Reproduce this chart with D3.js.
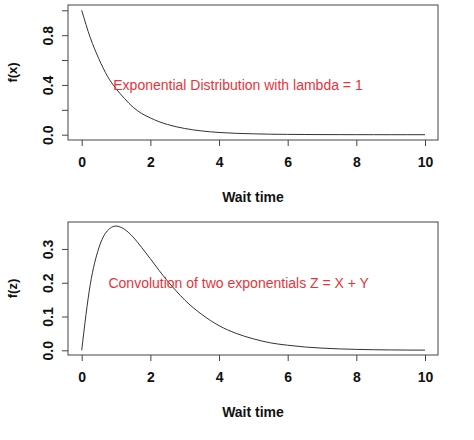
<!DOCTYPE html>
<html><head><meta charset="utf-8">
<script src="https://cdn.jsdelivr.net/npm/d3@7"></script>
<style>body{margin:0;background:#fff}text{font-family:"Liberation Sans",Arial,sans-serif}</style>
</head><body><svg id="chart" width="474" height="440"></svg>
<script>
// wait times sampled along the curves
const waitTimes = [0,0.25,0.5,0.75,1,1.25,1.5,1.75,2,2.25,2.5,2.75,3,3.5,4,4.5,5,5.5,6,6.5,7,7.5,8,8.5,9,9.5,10];
// f(x)
const densityX = [1,0.78,0.61,0.47,0.37,0.29,0.22,0.17,0.135,0.105,0.082,0.064,0.05,0.03,0.018,0.011,0.007,0.004,0.0025,0.0015,0.0009,0.0006,0.0003,0.0002,0.0001,0.0001,0];
// f(z)
const densityZ = [0,0.195,0.303,0.354,0.368,0.358,0.335,0.304,0.271,0.237,0.205,0.176,0.149,0.106,0.073,0.05,0.034,0.022,0.015,0.0098,0.0064,0.0042,0.0027,0.0017,0.0011,0.0007,0.0005];
const xTicks = [0,2,4,6,8,10];

const svg = d3.select("#chart");
const panels = [
  {vals: densityX, top: 5, bottom: 140, y0: 134.7, yTop: 10.3, ymax: 1, ticks: [0,0.4,0.8], minor: [0.2,0.6,1], ylab: "f(x)", tx: 0.92, ty: 0.4, note: "Exponential Distribution with lambda = 1"},
  {vals: densityZ, top: 222, bottom: 355, y0: 350.3, yTop: 226, ymax: 0.368, ticks: [0,0.1,0.2,0.3], minor: [], ylab: "f(z)", tx: 0.78, ty: 0.2, note: "Convolution of two exponentials Z = X + Y"}
];

panels.forEach(p => {
  const x = d3.scaleLinear([0,10],[81.7,425]);
  const y = d3.scaleLinear([0,p.ymax],[p.y0,p.yTop]);
  const g = svg.append("g");

  g.append("rect").attr("x",68).attr("y",p.top).attr("width",370).attr("height",p.bottom-p.top)
    .attr("fill","none").attr("stroke","#444").attr("stroke-width",1);

  g.append("path")
    .attr("fill","none").attr("stroke","#333").attr("stroke-width",1)
    .attr("d", d3.line().curve(d3.curveMonotoneX).x((d,i)=>x(waitTimes[i])).y(d=>y(d))(p.vals));

  // x axis
  const xa = g.append("g").attr("transform",`translate(0,${p.bottom})`)
    .call(d3.axisBottom(x).tickValues(xTicks).tickSize(6).tickPadding(11).tickFormat(d3.format("d")));
  xa.select(".domain").remove();
  xa.selectAll("line").attr("stroke","#444");
  xa.selectAll("text").attr("font-size",14).attr("font-weight","bold").attr("fill","#111");

  // y axis, labels rotated as in R
  const ya = g.append("g").attr("transform","translate(68,0)")
    .call(d3.axisLeft(y).tickValues(p.ticks.concat(p.minor)).tickSize(6)
      .tickFormat(d => p.ticks.includes(d) ? d3.format(".1f")(d) : ""));
  ya.select(".domain").remove();
  ya.selectAll("line").attr("stroke","#444");
  ya.selectAll(".tick text")
    .attr("font-size",14).attr("font-weight","bold").attr("fill","#111")
    .attr("text-anchor","middle").attr("x",0).attr("y",0).attr("dy","0.35em")
    .attr("transform","translate(-20,0) rotate(-90)");

  g.append("text").attr("transform",`translate(12,${(p.top+p.bottom)/2}) rotate(-90)`)
    .attr("text-anchor","middle").attr("dy","0.35em").attr("font-size",13).attr("font-weight","bold").attr("fill","#111").text(p.ylab);

  g.append("text").attr("x",253).attr("y",p.bottom+62).attr("text-anchor","middle")
    .attr("font-size",14).attr("font-weight","bold").attr("fill","#111").text("Wait time");

  g.append("text").attr("x",x(p.tx)).attr("y",y(p.ty)).attr("dy","0.35em")
    .attr("font-size",14).attr("fill","#e8333a").text(p.note);
});
</script></body></html>
